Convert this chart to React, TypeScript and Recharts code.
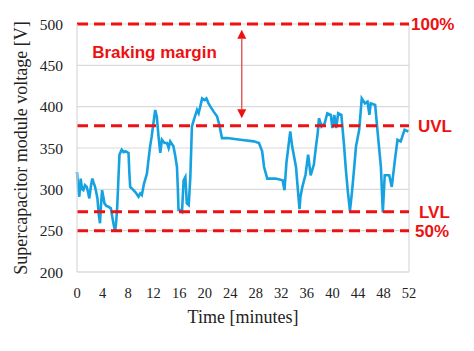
import {
  LineChart, Line, XAxis, YAxis, CartesianGrid, ReferenceLine, ReferenceDot,
} from 'recharts'

// time [minutes] / module voltage [V]
const times = [
  0, 0.2, 0.36, 0.58, 0.8, 0.99, 1.25, 1.52, 1.75, 1.93, 2.2, 2.4, 2.6, 2.83, 3.0, 3.2, 3.4, 3.6, 3.75, 3.93,
  4.1, 4.3, 4.6, 4.92, 5.3, 5.5, 5.7, 5.97, 6.15, 6.3, 6.5, 6.65, 7.0, 7.3, 7.6, 8.07, 8.2, 8.33, 8.85, 9.2,
  9.63, 9.9, 10.15, 10.5, 10.95, 11.2, 11.45, 11.7, 12.0, 12.25, 12.5, 12.77, 13.04, 13.3, 13.7, 14.1, 14.35, 14.6, 15.1, 15.4,
  15.66, 15.8, 15.9, 16.2, 16.45, 16.7, 16.97, 17.2, 17.5, 17.75, 18.0, 18.3, 18.8, 19.05, 19.3, 19.6, 20.0, 20.27, 20.6, 20.9,
  21.4, 21.95, 22.35, 22.7, 23.5, 25.6, 27.7, 28.5, 29.0, 29.3, 29.8, 31.1, 32.2, 32.5, 32.8, 33.4, 33.7, 34.3, 34.6, 34.85,
  35.0, 35.3, 35.8, 36.2, 36.6, 37.1, 37.4, 37.7, 37.9, 38.3, 38.8, 39.2, 39.75, 40.0, 40.3, 40.6, 40.9, 41.4, 41.8, 42.1,
  42.4, 42.75, 43.1, 43.4, 43.7, 44.2, 44.6, 45.1, 45.5, 45.8, 46.0, 46.7, 47.1, 47.6, 47.9, 48.2, 48.9, 49.3, 49.8, 50.2,
  50.7, 51.3, 51.9,
]
const volts = [
  321, 300, 291, 313, 300, 299, 305, 303, 296, 289, 305, 313, 308, 303, 297, 289, 270, 259, 280, 299,
  292, 283, 280, 279, 277, 268, 259, 249, 262, 279, 315, 342, 348, 345, 346, 344, 320, 303, 299, 296,
  291, 295, 293, 307, 319, 336, 352, 364, 382, 396, 388, 364, 344, 360, 356, 356, 350, 358, 352, 340,
  327, 300, 275, 275, 273, 311, 315, 283, 281, 315, 376, 384, 396, 392, 400, 410, 408, 410, 404, 400,
  394, 388, 376, 362, 362, 360, 358, 356, 346, 327, 313, 313, 311, 299, 332, 370, 352, 327, 299, 276,
  291, 303, 318, 342, 317, 330, 350, 368, 386, 376, 380, 392, 390, 374, 390, 374, 392, 390, 356, 325,
  299, 274, 299, 325, 352, 372, 410, 404, 406, 390, 404, 402, 368, 327, 272, 317, 317, 303, 336, 360,
  358, 372, 370,
]

const xTicks = [0, 4, 8, 12, 16, 20, 24, 28, 32, 36, 40, 44, 48, 52]
const yTicks = [200, 250, 300, 350, 400, 450, 500]

const levelNames = ['100%', 'UVL', 'LVL', '50%']
const levelValues = [500, 377, 273, 250]

// braking margin arrow: between full charge and UVL
const arrowTime = 25.8
const arrowFrom = 493
const arrowTo = 386

const RED = '#ee1111'
const labelOffsets = [2, 9, 10, 6]

const data = times.map((t, i) => ({ t, v: volts[i] }))

const MarginArrow = (props: any) => {
  const { x1, y1, y2 } = props
  const top = Math.min(y1, y2)
  const bot = Math.max(y1, y2)
  const h = 9
  const w = 4.5
  return (
    <g>
      <line x1={x1} y1={top + h} x2={x1} y2={bot - h} stroke="#e65c5c" strokeWidth={1.5} />
      <polygon points={`${x1},${top} ${x1 - w},${top + h} ${x1 + w},${top + h}`} fill={RED} />
      <polygon points={`${x1},${bot} ${x1 - w},${bot - h} ${x1 + w},${bot - h}`} fill={RED} />
    </g>
  )
}

export default function App() {
  const serif = '"Liberation Serif", "Times New Roman", serif'
  const sans = '"Liberation Sans", Arial, sans-serif'
  return (
    <div style={{ position: 'absolute', left: 0, top: 0, background: '#fff' }}>
      <LineChart width={474} height={351} data={data} margin={{ top: 24, right: 65, bottom: 49, left: 0 }}>
        <CartesianGrid vertical={false} stroke="#d9d9d9" strokeWidth={1.2} />
        <XAxis
          type="number" dataKey="t" domain={[0, 52]} ticks={xTicks} height={30}
          tickLine={false} axisLine={{ stroke: '#d9d9d9', strokeWidth: 1.2 }} tickMargin={10}
          tick={{ fontSize: 14.5, fill: '#222', fontFamily: serif }}
          label={{ value: 'Time [minutes]', position: 'bottom', offset: 8, fontSize: 18, fill: '#222', fontFamily: serif }}
        />
        <YAxis
          type="number" domain={[200, 500]} ticks={yTicks} width={77}
          tickLine={false} axisLine={{ stroke: '#d9d9d9', strokeWidth: 1.2 }} tickMargin={8}
          tick={{ fontSize: 15.5, fill: '#222', fontFamily: serif }}
          label={{
            value: 'Supercapacitor module voltage [V]', angle: -90, position: 'insideLeft', offset: 21,
            fontSize: 18, fill: '#222', fontFamily: serif, style: { textAnchor: 'middle' },
          }}
        />
        <ReferenceLine x={52} stroke="#d9d9d9" strokeWidth={1.2} />
        <Line type="linear" dataKey="v" stroke="#16a2e0" strokeWidth={2.6} dot={false} isAnimationActive={false} />
        {levelValues.map((lv, i) => (
          <ReferenceLine
            key={levelNames[i]} y={lv} stroke={RED} strokeWidth={3} strokeDasharray="11 6"
            label={{
              value: levelNames[i], position: 'right', offset: labelOffsets[i],
              fill: RED, fontSize: 17, fontWeight: 'bold', fontFamily: sans,
            }}
          />
        ))}
        <ReferenceLine
          segment={[{ x: arrowTime, y: arrowFrom }, { x: arrowTime, y: arrowTo }]}
          shape={MarginArrow}
        />
        <ReferenceDot
          x={12.14} y={466} r={0} stroke="none"
          label={{ value: 'Braking margin', position: 'center', fill: RED, fontSize: 17, fontWeight: 'bold', fontFamily: sans }}
        />
      </LineChart>
    </div>
  )
}
